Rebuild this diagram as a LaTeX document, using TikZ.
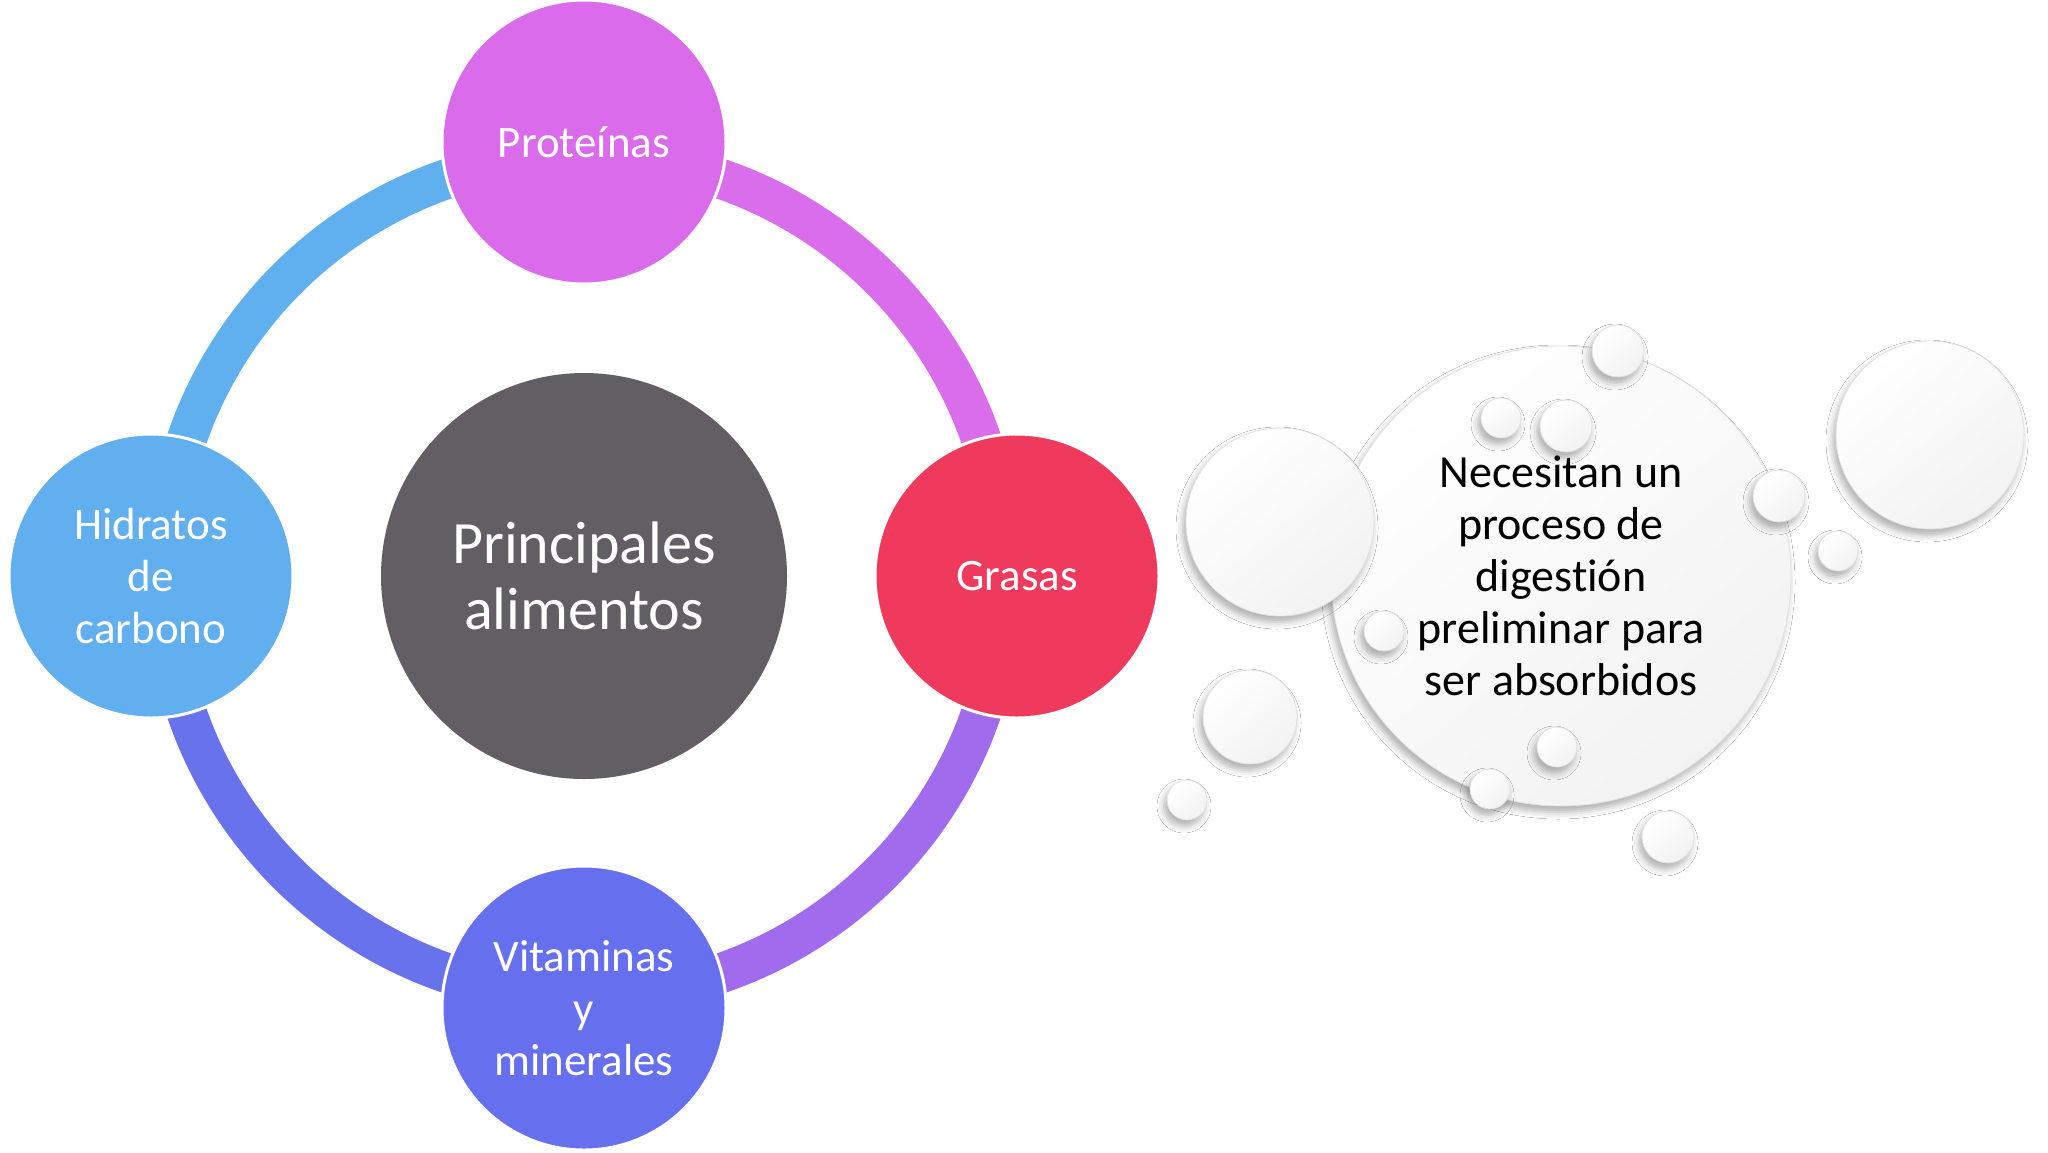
\documentclass[tikz,border=0pt]{standalone}
\usepackage{fontspec}
\setmainfont{Carlito}[Ligatures={NoCommon}]
\usetikzlibrary{shadows.blur}
\definecolor{cProt}{HTML}{DA6CEC}
\definecolor{cGras}{HTML}{EF3A5E}
\definecolor{cHidr}{HTML}{62AFEF}
\definecolor{cVita}{HTML}{6670EE}
\definecolor{cCent}{HTML}{615F63}
\definecolor{rTL}{HTML}{60AFEE}
\definecolor{rTR}{HTML}{D96DEB}
\definecolor{rBR}{HTML}{A06BEC}
\definecolor{rBL}{HTML}{6772EC}
\begin{document}
\begin{tikzpicture}[x=1pt,y=-1pt,
  item/.style={circle, minimum size=284pt, inner sep=0pt, draw=white, line width=3pt,
    text=white, align=center, font=\fontsize{45}{52}\selectfont},
  ringseg/.style={line width=40pt},
  bub/.style={circle, inner sep=0pt, draw=black!12, line width=0.8pt,
    top color=white, bottom color=black!5, shading angle=40,
    blur shadow={shadow xshift=-3pt, shadow yshift=-6pt, shadow blur radius=7pt, shadow opacity=32}}]
\useasboundingbox[fill=white] (0,0) rectangle (2048,1152);
\coordinate (ctr) at (584,576);
% ring
\draw[ringseg, rTL] (ctr) ++(180:420) arc[start angle=180, end angle=270, radius=420];
\draw[ringseg, rTR] (ctr) ++(270:420) arc[start angle=270, end angle=360, radius=420];
\draw[ringseg, rBR] (ctr) ++(0:420) arc[start angle=0, end angle=90, radius=420];
\draw[ringseg, rBL] (ctr) ++(90:420) arc[start angle=90, end angle=180, radius=420];
% nodes
\node[circle, minimum size=406pt, inner sep=0pt, fill=cCent, text=white, align=center,
  font=\fontsize{60}{66}\selectfont] (cent) at (ctr) {Principales\\alimentos};
\node[item, fill=cProt] (prot) at (584,142) {Proteínas};
\node[item, fill=cGras] (gras) at (1017,576) {Grasas};
\node[item, fill=cHidr] (hidr) at (151,576) {Hidratos\\de\\carbono};
\node[item, fill=cVita] (vita) at (584,1008) {Vitaminas\\y\\minerales};
% bubbles
\node[bub, minimum size=460pt, font=\fontsize{46}{52}\selectfont, align=center, text=black]
  (main) at (1561,576) {Necesitan un\\proceso de\\digestión\\preliminar para\\ser absorbidos};
\node[bub, minimum size=188pt] (bL) at (1280,522) {};
\node[bub, minimum size=188pt] (bR) at (1930,435) {};
\node[bub, minimum size=94pt] (b1) at (1250,717) {};
\node[bub, minimum size=52pt] (b2) at (1618,351) {};
\node[bub, minimum size=40pt] (b3) at (1501,418) {};
\node[bub, minimum size=52pt] (b4) at (1566,426) {};
\node[bub, minimum size=52pt] (b5) at (1779,496) {};
\node[bub, minimum size=40pt] (b6) at (1838,551) {};
\node[bub, minimum size=40pt] (b7) at (1384,631) {};
\node[bub, minimum size=40pt] (b8) at (1557,747) {};
\node[bub, minimum size=40pt] (b9) at (1490,789) {};
\node[bub, minimum size=40pt] (b10) at (1187,800) {};
\node[bub, minimum size=52pt] (b11) at (1668,837) {};
\end{tikzpicture}
\end{document}
